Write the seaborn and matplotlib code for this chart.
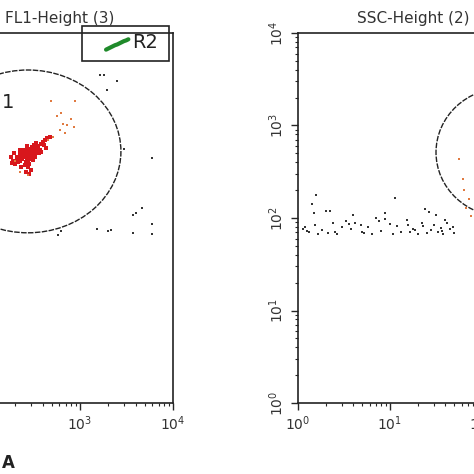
import matplotlib
matplotlib.use("Agg")
import matplotlib.pyplot as plt
import seaborn as sns
import numpy as np
import pandas as pd
from matplotlib.patches import Ellipse, Rectangle

sns.set_style("white")
plt.rcParams['font.family'] = ['DejaVu Sans']

# Left panel (log10 values): FSC vs FL1
red_lx = [2.46,2.40,2.50,2.44,2.52,2.38,2.55,2.42,2.48,2.35,2.58,2.45,2.41,2.53,2.49,2.36,2.60,2.43,2.47,2.39,
          2.51,2.33,2.56,2.44,2.62,2.37,2.48,2.54,2.30,2.65,2.42,2.46,2.50,2.40,2.57,2.34,2.45,2.52,2.68,2.28,
          2.44,2.47,2.41,2.55,2.39,2.49,2.43,2.61,2.36,2.50,2.47,2.44,2.38,2.53,2.32,2.58,2.45,2.42,2.51,2.40,
          2.26,2.29,2.31,2.35,2.27,2.43,2.48,2.37,2.56,2.63]
red_ly = [2.70,2.66,2.74,2.72,2.76,2.64,2.78,2.69,2.71,2.62,2.80,2.68,2.73,2.72,2.67,2.70,2.82,2.65,2.75,2.71,
          2.69,2.60,2.74,2.63,2.84,2.68,2.77,2.70,2.58,2.86,2.61,2.66,2.79,2.74,2.73,2.65,2.58,2.66,2.88,2.62,
          2.55,2.52,2.57,2.77,2.72,2.63,2.76,2.79,2.67,2.72,2.69,2.71,2.69,2.81,2.66,2.71,2.48,2.50,2.75,2.70,
          2.66,2.70,2.62,2.74,2.59,2.78,2.64,2.55,2.70,2.76]
orange_lx = [2.78,2.82,2.86,2.90,2.94,2.75,2.84,2.80,2.71,2.66,2.36,2.44,2.30,2.95,2.69]
orange_ly = [2.95,3.02,3.00,3.07,2.98,3.10,2.92,3.14,2.88,2.84,2.50,2.46,2.62,3.26,3.27]
black_lx = [3.77,3.67,3.57,3.60,3.77,3.77,3.57,3.18,3.30,3.33,2.76,2.80,3.21,3.29,3.26,3.40,3.47]
black_ly = [2.65,2.11,2.03,2.05,1.94,1.83,1.84,1.88,1.86,1.87,1.82,1.86,3.55,3.38,3.55,3.48,2.75]

# Right panel (log10 values): FSC vs SSC
gray_lx = [0.05,0.08,0.12,0.15,0.18,0.22,0.26,0.30,0.33,0.38,0.42,0.48,0.52,0.58,0.62,0.68,0.70,0.76,0.80,0.85,
           0.90,0.95,1.00,1.03,1.08,1.12,1.18,1.22,1.27,1.30,1.35,1.40,1.45,1.48,1.52,1.55,1.58,1.60,1.65,1.70,
           0.20,0.35,0.60,1.05,1.38,0.17,0.40,0.88,1.20,1.50,1.62,1.68,0.10,0.55,0.95,1.42,1.25,0.72,1.57,1.36]
gray_ly = [1.88,1.90,1.85,2.15,1.92,1.83,1.87,2.08,1.84,1.95,1.83,1.90,1.97,1.88,1.95,1.92,1.85,1.90,1.83,2.00,
           1.86,2.05,1.94,1.83,1.91,1.85,1.98,1.85,1.87,1.83,1.95,1.84,1.87,1.92,1.85,1.89,1.83,1.98,1.88,1.84,
           2.25,2.08,2.03,2.22,2.10,2.05,1.85,1.97,1.92,2.03,1.95,1.90,1.86,1.93,1.99,2.06,1.88,1.84,1.86,1.91]
ro_lx = [1.75,1.79,1.80,1.86,1.83,1.88]
ro_ly = [2.64,2.42,2.30,2.20,2.11,2.02]

fig = plt.figure(figsize=(4.74, 4.74), dpi=100)
axL = fig.add_axes([-199/474, 71/474, 372/474, 370/474])
axR = fig.add_axes([298/474, 71/474, 368/474, 370/474])

sns.scatterplot(x=red_lx, y=red_ly, ax=axL, color="#d8171c", s=9, linewidth=0, marker="s")
sns.scatterplot(x=orange_lx, y=orange_ly, ax=axL, color="#e07a40", s=2, linewidth=0, marker="s")
sns.scatterplot(x=black_lx, y=black_ly, ax=axL, color="#333333", s=2, linewidth=0, marker="s")
sns.scatterplot(x=gray_lx, y=gray_ly, ax=axR, color="#333333", s=2, linewidth=0, marker="s")
sns.scatterplot(x=ro_lx, y=ro_ly, ax=axR, color="#e07a40", s=3, linewidth=0, marker="s")

axL.add_patch(Ellipse((2.44, 2.72), 2.0, 1.76, fill=False, ec="#222", lw=1.0, ls=(0, (4, 1))))
axR.add_patch(Ellipse((2.25, 2.71), 1.5, 1.40, fill=False, ec="#222", lw=1.0, ls=(0, (4, 1))))

for ax in (axL, axR):
    ax.set_xlim(0, 4)
    ax.set_ylim(0, 4)
    ax.set_xticks(range(5))
    ax.set_yticks(range(5))
    ax.set_xticklabels([f"$10^{{{i}}}$" for i in range(5)], fontsize=10, color="#333")
    ax.set_yticklabels([f"$10^{{{i}}}$" for i in range(5)], fontsize=10, color="#333", rotation=90, va="center")
    minors = [d + np.log10(k) for d in range(4) for k in range(2, 10)]
    ax.set_xticks(minors, minor=True)
    ax.set_yticks(minors, minor=True)
    ax.tick_params(which="major", length=5, width=1, direction="out", bottom=True, left=True)
    ax.tick_params(which="minor", length=2.5, width=0.8, direction="out", bottom=True, left=True)
    for sp in ax.spines.values():
        sp.set_color("#222")
        sp.set_linewidth(1.2)
# left panel: y labels fall outside the figure anyway
axL.set_yticklabels([])
axL.set_xticklabels(["", "", "$10^{2}$", "$10^{3}$", "$10^{4}$"])

# R2 box in left panel
box = Rectangle((0.755, 0.925), 0.235, 0.095, transform=axL.transAxes, fill=False, ec="#222", lw=1.2, clip_on=False)
axL.add_patch(box)
axL.text(0.925, 0.973, "R2", transform=axL.transAxes, fontsize=14, ha="center", va="center", color="#222")
g_x = [0.820, 0.826, 0.832, 0.838, 0.844, 0.850, 0.856, 0.862, 0.868, 0.874, 0.880]
g_y = [0.955, 0.958, 0.961, 0.964, 0.967, 0.969, 0.972, 0.975, 0.978, 0.980, 0.983]
axL.plot(g_x, g_y, transform=axL.transAxes, color="#1f8a2a", lw=3, clip_on=False)
fig.text(0.005, 1 - 103/474, "1", fontsize=14, ha="left", va="center", color="#222")

fig.text(5/474, 1 - 19/474, "FL1-Height (3)", fontsize=11, ha="left", va="center", color="#333")
fig.text(357/474, 1 - 19/474, "SSC-Height (2)", fontsize=11, ha="left", va="center", color="#333")
fig.text(2/474, 1 - 463/474, "A", fontsize=12, fontweight="bold", ha="left", va="center", color="#222")

fig.savefig("out.png", dpi=100)
